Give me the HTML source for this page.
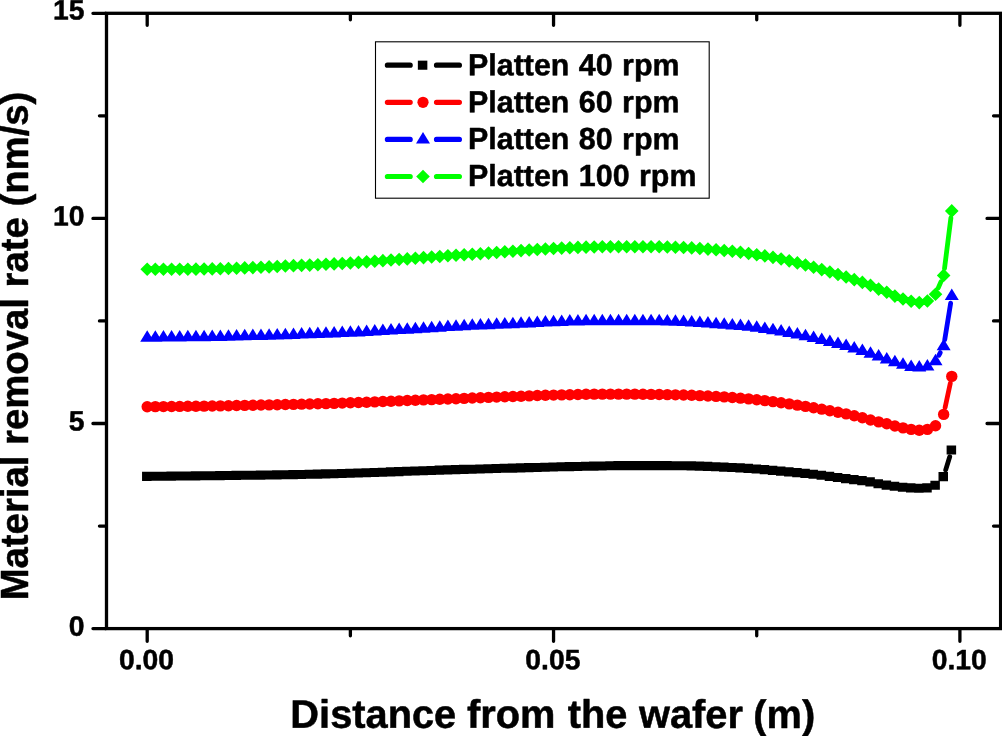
<!DOCTYPE html>
<html lang="en"><head><meta charset="utf-8"><title>Material removal rate vs distance from the wafer</title>
<style>
html,body{margin:0;padding:0;background:#fff;}
body{width:1002px;height:736px;overflow:hidden;}
svg{display:block;}
text{font-family:"Liberation Sans",sans-serif;font-weight:bold;fill:#000;stroke:#000;stroke-width:0.5px;stroke-linejoin:round;}
.tick{font-size:28.3px;}
.leg{font-size:30.4px;}
.title{font-size:39px;}
</style></head><body>
<svg width="1002" height="736" viewBox="0 0 1002 736">
<rect width="1002" height="736" fill="#fff"/>
<g fill="#000000" stroke="none">
<path d="M945.69 469.91L949.73 456.69" fill="none" stroke="#000000" stroke-width="4.8" stroke-linecap="round"/>
<path d="M142.05 471.85h9.5v9.1h-9.5zM150.18 471.77h9.5v9.1h-9.5zM158.3 471.69h9.5v9.1h-9.5zM166.43 471.61h9.5v9.1h-9.5zM174.56 471.52h9.5v9.1h-9.5zM182.68 471.43h9.5v9.1h-9.5zM190.81 471.34h9.5v9.1h-9.5zM198.94 471.25h9.5v9.1h-9.5zM207.07 471.15h9.5v9.1h-9.5zM215.19 471.05h9.5v9.1h-9.5zM223.32 470.96h9.5v9.1h-9.5zM231.45 470.86h9.5v9.1h-9.5zM239.57 470.76h9.5v9.1h-9.5zM247.7 470.66h9.5v9.1h-9.5zM255.83 470.55h9.5v9.1h-9.5zM263.96 470.44h9.5v9.1h-9.5zM272.08 470.32h9.5v9.1h-9.5zM280.21 470.19h9.5v9.1h-9.5zM288.34 470.05h9.5v9.1h-9.5zM296.46 469.9h9.5v9.1h-9.5zM304.59 469.73h9.5v9.1h-9.5zM312.72 469.54h9.5v9.1h-9.5zM320.84 469.34h9.5v9.1h-9.5zM328.97 469.13h9.5v9.1h-9.5zM337.1 468.91h9.5v9.1h-9.5zM345.23 468.68h9.5v9.1h-9.5zM353.35 468.45h9.5v9.1h-9.5zM361.48 468.2h9.5v9.1h-9.5zM369.61 467.92h9.5v9.1h-9.5zM377.73 467.64h9.5v9.1h-9.5zM385.86 467.35h9.5v9.1h-9.5zM393.99 467.06h9.5v9.1h-9.5zM402.11 466.77h9.5v9.1h-9.5zM410.24 466.47h9.5v9.1h-9.5zM418.37 466.18h9.5v9.1h-9.5zM426.5 465.89h9.5v9.1h-9.5zM434.62 465.61h9.5v9.1h-9.5zM442.75 465.35h9.5v9.1h-9.5zM450.88 465.1h9.5v9.1h-9.5zM459 464.86h9.5v9.1h-9.5zM467.13 464.63h9.5v9.1h-9.5zM475.26 464.41h9.5v9.1h-9.5zM483.38 464.19h9.5v9.1h-9.5zM491.51 463.98h9.5v9.1h-9.5zM499.64 463.76h9.5v9.1h-9.5zM507.76 463.55h9.5v9.1h-9.5zM515.89 463.34h9.5v9.1h-9.5zM524.02 463.12h9.5v9.1h-9.5zM532.15 462.9h9.5v9.1h-9.5zM540.27 462.68h9.5v9.1h-9.5zM548.4 462.47h9.5v9.1h-9.5zM556.53 462.26h9.5v9.1h-9.5zM564.65 462.07h9.5v9.1h-9.5zM572.78 461.88h9.5v9.1h-9.5zM580.91 461.71h9.5v9.1h-9.5zM589.03 461.55h9.5v9.1h-9.5zM597.16 461.39h9.5v9.1h-9.5zM605.29 461.23h9.5v9.1h-9.5zM613.42 461.1h9.5v9.1h-9.5zM621.54 461.05h9.5v9.1h-9.5zM629.67 461.05h9.5v9.1h-9.5zM637.8 461.05h9.5v9.1h-9.5zM645.92 461.05h9.5v9.1h-9.5zM654.05 461.05h9.5v9.1h-9.5zM662.18 461.07h9.5v9.1h-9.5zM670.3 461.14h9.5v9.1h-9.5zM678.43 461.24h9.5v9.1h-9.5zM686.56 461.35h9.5v9.1h-9.5zM694.69 461.54h9.5v9.1h-9.5zM702.81 461.83h9.5v9.1h-9.5zM710.94 462.18h9.5v9.1h-9.5zM719.07 462.55h9.5v9.1h-9.5zM727.19 462.93h9.5v9.1h-9.5zM735.32 463.36h9.5v9.1h-9.5zM743.45 463.85h9.5v9.1h-9.5zM751.58 464.43h9.5v9.1h-9.5zM759.7 465.1h9.5v9.1h-9.5zM767.83 465.81h9.5v9.1h-9.5zM775.96 466.55h9.5v9.1h-9.5zM784.08 467.29h9.5v9.1h-9.5zM792.21 468.06h9.5v9.1h-9.5zM800.34 468.87h9.5v9.1h-9.5zM808.46 469.75h9.5v9.1h-9.5zM816.59 470.73h9.5v9.1h-9.5zM824.72 471.81h9.5v9.1h-9.5zM832.85 472.94h9.5v9.1h-9.5zM840.97 474.05h9.5v9.1h-9.5zM849.1 475.07h9.5v9.1h-9.5zM857.23 476.1h9.5v9.1h-9.5zM865.35 477.35h9.5v9.1h-9.5zM873.48 479.15h9.5v9.1h-9.5zM881.61 480.59h9.5v9.1h-9.5zM889.73 481.75h9.5v9.1h-9.5zM897.86 482.69h9.5v9.1h-9.5zM905.99 483.35h9.5v9.1h-9.5zM914.12 483.65h9.5v9.1h-9.5zM922.24 483.35h9.5v9.1h-9.5zM930.37 480.65h9.5v9.1h-9.5zM938.5 472.05h9.5v9.1h-9.5zM946.62 445.45h9.5v9.1h-9.5z"/>
</g>
<g fill="#ff0000" stroke="none">
<path d="M945.11 407.55L950.31 383.25" fill="none" stroke="#ff0000" stroke-width="4.8" stroke-linecap="round"/>
<circle cx="147.2" cy="406.7" r="5.7"/>
<circle cx="155.33" cy="406.65" r="5.7"/>
<circle cx="163.45" cy="406.58" r="5.7"/>
<circle cx="171.58" cy="406.5" r="5.7"/>
<circle cx="179.71" cy="406.42" r="5.7"/>
<circle cx="187.83" cy="406.32" r="5.7"/>
<circle cx="195.96" cy="406.22" r="5.7"/>
<circle cx="204.09" cy="406.11" r="5.7"/>
<circle cx="212.22" cy="406" r="5.7"/>
<circle cx="220.34" cy="405.87" r="5.7"/>
<circle cx="228.47" cy="405.72" r="5.7"/>
<circle cx="236.6" cy="405.56" r="5.7"/>
<circle cx="244.72" cy="405.4" r="5.7"/>
<circle cx="252.85" cy="405.24" r="5.7"/>
<circle cx="260.98" cy="405.07" r="5.7"/>
<circle cx="269.11" cy="404.89" r="5.7"/>
<circle cx="277.23" cy="404.71" r="5.7"/>
<circle cx="285.36" cy="404.53" r="5.7"/>
<circle cx="293.49" cy="404.35" r="5.7"/>
<circle cx="301.61" cy="404.17" r="5.7"/>
<circle cx="309.74" cy="404" r="5.7"/>
<circle cx="317.87" cy="403.81" r="5.7"/>
<circle cx="325.99" cy="403.6" r="5.7"/>
<circle cx="334.12" cy="403.36" r="5.7"/>
<circle cx="342.25" cy="403.09" r="5.7"/>
<circle cx="350.38" cy="402.8" r="5.7"/>
<circle cx="358.5" cy="402.5" r="5.7"/>
<circle cx="366.63" cy="402.19" r="5.7"/>
<circle cx="374.76" cy="401.86" r="5.7"/>
<circle cx="382.88" cy="401.53" r="5.7"/>
<circle cx="391.01" cy="401.2" r="5.7"/>
<circle cx="399.14" cy="400.87" r="5.7"/>
<circle cx="407.26" cy="400.54" r="5.7"/>
<circle cx="415.39" cy="400.22" r="5.7"/>
<circle cx="423.52" cy="399.9" r="5.7"/>
<circle cx="431.65" cy="399.6" r="5.7"/>
<circle cx="439.77" cy="399.3" r="5.7"/>
<circle cx="447.9" cy="399" r="5.7"/>
<circle cx="456.03" cy="398.68" r="5.7"/>
<circle cx="464.15" cy="398.35" r="5.7"/>
<circle cx="472.28" cy="398.02" r="5.7"/>
<circle cx="480.41" cy="397.7" r="5.7"/>
<circle cx="488.53" cy="397.39" r="5.7"/>
<circle cx="496.66" cy="397.09" r="5.7"/>
<circle cx="504.79" cy="396.8" r="5.7"/>
<circle cx="512.91" cy="396.5" r="5.7"/>
<circle cx="521.04" cy="396.19" r="5.7"/>
<circle cx="529.17" cy="395.87" r="5.7"/>
<circle cx="537.3" cy="395.57" r="5.7"/>
<circle cx="545.42" cy="395.3" r="5.7"/>
<circle cx="553.55" cy="395.08" r="5.7"/>
<circle cx="561.68" cy="394.88" r="5.7"/>
<circle cx="569.8" cy="394.69" r="5.7"/>
<circle cx="577.93" cy="394.5" r="5.7"/>
<circle cx="586.06" cy="394.25" r="5.7"/>
<circle cx="594.18" cy="394.1" r="5.7"/>
<circle cx="602.31" cy="394.1" r="5.7"/>
<circle cx="610.44" cy="394.1" r="5.7"/>
<circle cx="618.57" cy="394.1" r="5.7"/>
<circle cx="626.69" cy="394.1" r="5.7"/>
<circle cx="634.82" cy="394.14" r="5.7"/>
<circle cx="642.95" cy="394.23" r="5.7"/>
<circle cx="651.07" cy="394.36" r="5.7"/>
<circle cx="659.2" cy="394.5" r="5.7"/>
<circle cx="667.33" cy="394.65" r="5.7"/>
<circle cx="675.45" cy="394.83" r="5.7"/>
<circle cx="683.58" cy="395.05" r="5.7"/>
<circle cx="691.71" cy="395.3" r="5.7"/>
<circle cx="699.84" cy="395.61" r="5.7"/>
<circle cx="707.96" cy="395.98" r="5.7"/>
<circle cx="716.09" cy="396.42" r="5.7"/>
<circle cx="724.22" cy="396.9" r="5.7"/>
<circle cx="732.34" cy="397.48" r="5.7"/>
<circle cx="740.47" cy="398.16" r="5.7"/>
<circle cx="748.6" cy="398.9" r="5.7"/>
<circle cx="756.73" cy="399.7" r="5.7"/>
<circle cx="764.85" cy="400.6" r="5.7"/>
<circle cx="772.98" cy="401.6" r="5.7"/>
<circle cx="781.11" cy="402.7" r="5.7"/>
<circle cx="789.23" cy="403.87" r="5.7"/>
<circle cx="797.36" cy="405.1" r="5.7"/>
<circle cx="805.49" cy="406.36" r="5.7"/>
<circle cx="813.61" cy="407.7" r="5.7"/>
<circle cx="821.74" cy="409.16" r="5.7"/>
<circle cx="829.87" cy="410.7" r="5.7"/>
<circle cx="838" cy="412.25" r="5.7"/>
<circle cx="846.12" cy="413.9" r="5.7"/>
<circle cx="854.25" cy="415.71" r="5.7"/>
<circle cx="862.38" cy="417.7" r="5.7"/>
<circle cx="870.5" cy="420" r="5.7"/>
<circle cx="878.63" cy="421.9" r="5.7"/>
<circle cx="886.76" cy="423.8" r="5.7"/>
<circle cx="894.88" cy="426" r="5.7"/>
<circle cx="903.01" cy="427.9" r="5.7"/>
<circle cx="911.14" cy="429.4" r="5.7"/>
<circle cx="919.27" cy="430.2" r="5.7"/>
<circle cx="927.39" cy="429.4" r="5.7"/>
<circle cx="935.52" cy="425.7" r="5.7"/>
<circle cx="943.65" cy="414.4" r="5.7"/>
<circle cx="951.77" cy="376.4" r="5.7"/>
</g>
<g fill="#0000ff" stroke="none">
<path d="M938.85 355.31L940.31 352.62M944.76 339.56L950.66 303.08" fill="none" stroke="#0000ff" stroke-width="4.8" stroke-linecap="round"/>
<path d="M147.2 330.3L154.2 341.8L140.2 341.8zM155.33 330.19L162.33 341.69L148.33 341.69zM163.45 330.09L170.45 341.59L156.45 341.59zM171.58 329.99L178.58 341.49L164.58 341.49zM179.71 329.9L186.71 341.4L172.71 341.4zM187.83 329.83L194.83 341.33L180.83 341.33zM195.96 329.76L202.96 341.26L188.96 341.26zM204.09 329.69L211.09 341.19L197.09 341.19zM212.22 329.6L219.22 341.1L205.22 341.1zM220.34 329.45L227.34 340.95L213.34 340.95zM228.47 329.25L235.47 340.75L221.47 340.75zM236.6 329.02L243.6 340.52L229.6 340.52zM244.72 328.8L251.72 340.3L237.72 340.3zM252.85 328.61L259.85 340.11L245.85 340.11zM260.98 328.42L267.98 339.92L253.98 339.92zM269.11 328.23L276.11 339.73L262.11 339.73zM277.23 328L284.23 339.5L270.23 339.5zM285.36 327.71L292.36 339.21L278.36 339.21zM293.49 327.4L300.49 338.9L286.49 338.9zM301.61 327.1L308.61 338.6L294.61 338.6zM309.74 326.81L316.74 338.31L302.74 338.31zM317.87 326.51L324.87 338.01L310.87 338.01zM325.99 326.2L332.99 337.7L318.99 337.7zM334.12 325.89L341.12 337.39L327.12 337.39zM342.25 325.59L349.25 337.09L335.25 337.09zM350.38 325.26L357.38 336.76L343.38 336.76zM358.5 324.9L365.5 336.4L351.5 336.4zM366.63 324.47L373.63 335.97L359.63 335.97zM374.76 323.98L381.76 335.48L367.76 335.48zM382.88 323.48L389.88 334.98L375.88 334.98zM391.01 323L398.01 334.5L384.01 334.5zM399.14 322.57L406.14 334.07L392.14 334.07zM407.26 322.17L414.26 333.67L400.26 333.67zM415.39 321.76L422.39 333.26L408.39 333.26zM423.52 321.3L430.52 332.8L416.52 332.8zM431.65 320.75L438.65 332.25L424.65 332.25zM439.77 320.14L446.77 331.64L432.77 331.64zM447.9 319.6L454.9 331.1L440.9 331.1zM456.03 319.15L463.03 330.65L449.03 330.65zM464.15 318.74L471.15 330.24L457.15 330.24zM472.28 318.36L479.28 329.86L465.28 329.86zM480.41 318L487.41 329.5L473.41 329.5zM488.53 317.66L495.53 329.16L481.53 329.16zM496.66 317.35L503.66 328.85L489.66 328.85zM504.79 317.04L511.79 328.54L497.79 328.54zM512.91 316.7L519.91 328.2L505.91 328.2zM521.04 316.31L528.04 327.81L514.04 327.81zM529.17 315.89L536.17 327.39L522.17 327.39zM537.3 315.48L544.3 326.98L530.3 326.98zM545.42 315.1L552.42 326.6L538.42 326.6zM553.55 314.75L560.55 326.25L546.55 326.25zM561.68 314.4L568.68 325.9L554.68 325.9zM569.8 314.1L576.8 325.6L562.8 325.6zM577.93 313.9L584.93 325.4L570.93 325.4zM586.06 313.76L593.06 325.26L579.06 325.26zM594.18 313.7L601.18 325.2L587.18 325.2zM602.31 313.72L609.31 325.22L595.31 325.22zM610.44 313.75L617.44 325.25L603.44 325.25zM618.57 313.78L625.57 325.28L611.57 325.28zM626.69 313.8L633.69 325.3L619.69 325.3zM634.82 313.8L641.82 325.3L627.82 325.3zM642.95 313.8L649.95 325.3L635.95 325.3zM651.07 313.8L658.07 325.3L644.07 325.3zM659.2 313.8L666.2 325.3L652.2 325.3zM667.33 313.91L674.33 325.41L660.33 325.41zM675.45 314.2L682.45 325.7L668.45 325.7zM683.58 314.59L690.58 326.09L676.58 326.09zM691.71 315L698.71 326.5L684.71 326.5zM699.84 315.46L706.84 326.96L692.84 326.96zM707.96 316.04L714.96 327.54L700.96 327.54zM716.09 316.67L723.09 328.17L709.09 328.17zM724.22 317.3L731.22 328.8L717.22 328.8zM732.34 317.91L739.34 329.41L725.34 329.41zM740.47 318.55L747.47 330.05L733.47 330.05zM748.6 319.3L755.6 330.8L741.6 330.8zM756.73 320.26L763.73 331.76L749.73 331.76zM764.85 321.4L771.85 332.9L757.85 332.9zM772.98 322.7L779.98 334.2L765.98 334.2zM781.11 324.1L788.11 335.6L774.11 335.6zM789.23 325.5L796.23 337L782.23 337zM797.36 327L804.36 338.5L790.36 338.5zM805.49 328.73L812.49 340.23L798.49 340.23zM813.61 330.6L820.61 342.1L806.61 342.1zM821.74 332.52L828.74 344.02L814.74 344.02zM829.87 334.5L836.87 346L822.87 346zM838 336.5L845 348L831 348zM846.12 338.6L853.12 350.1L839.12 350.1zM854.25 340.9L861.25 352.4L847.25 352.4zM862.38 343.4L869.38 354.9L855.38 354.9zM870.5 346.17L877.5 357.67L863.5 357.67zM878.63 349.1L885.63 360.6L871.63 360.6zM886.76 352.1L893.76 363.6L879.76 363.6zM894.88 354.8L901.88 366.3L887.88 366.3zM903.01 357.3L910.01 368.8L896.01 368.8zM911.14 359.4L918.14 370.9L904.14 370.9zM919.27 360.1L926.27 371.6L912.27 371.6zM927.39 359.1L934.39 370.6L920.39 370.6zM935.52 353.8L942.52 365.3L928.52 365.3zM943.65 338.8L950.65 350.3L936.65 350.3zM951.77 288.5L958.77 300L944.77 300z"/>
</g>
<g fill="#00ff00" stroke="none">
<path d="M938.28 287.87L940.88 281.83M944.52 268.45L950.9 217.85" fill="none" stroke="#00ff00" stroke-width="4.8" stroke-linecap="round"/>
<path d="M147.2 262.5L154 269.3L147.2 276.1L140.4 269.3zM155.33 262.5L162.13 269.3L155.33 276.1L148.53 269.3zM163.45 262.5L170.25 269.3L163.45 276.1L156.65 269.3zM171.58 262.5L178.38 269.3L171.58 276.1L164.78 269.3zM179.71 262.5L186.51 269.3L179.71 276.1L172.91 269.3zM187.83 262.46L194.63 269.26L187.83 276.06L181.03 269.26zM195.96 262.37L202.76 269.17L195.96 275.97L189.16 269.17zM204.09 262.24L210.89 269.04L204.09 275.84L197.29 269.04zM212.22 262.1L219.02 268.9L212.22 275.7L205.42 268.9zM220.34 261.92L227.14 268.72L220.34 275.52L213.54 268.72zM228.47 261.67L235.27 268.47L228.47 275.27L221.67 268.47zM236.6 261.39L243.4 268.19L236.6 274.99L229.8 268.19zM244.72 261.1L251.52 267.9L244.72 274.7L237.92 267.9zM252.85 260.79L259.65 267.59L252.85 274.39L246.05 267.59zM260.98 260.45L267.78 267.25L260.98 274.05L254.18 267.25zM269.11 260.08L275.91 266.88L269.11 273.68L262.31 266.88zM277.23 259.7L284.03 266.5L277.23 273.3L270.43 266.5zM285.36 259.26L292.16 266.06L285.36 272.86L278.56 266.06zM293.49 258.85L300.29 265.65L293.49 272.45L286.69 265.65zM301.61 258.57L308.41 265.37L301.61 272.17L294.81 265.37zM309.74 258.3L316.54 265.1L309.74 271.9L302.94 265.1zM317.87 257.92L324.67 264.72L317.87 271.52L311.07 264.72zM325.99 257.5L332.79 264.3L325.99 271.1L319.19 264.3zM334.12 257.12L340.92 263.92L334.12 270.72L327.32 263.92zM342.25 256.7L349.05 263.5L342.25 270.3L335.45 263.5zM350.38 256.17L357.18 262.97L350.38 269.77L343.57 262.97zM358.5 255.6L365.3 262.4L358.5 269.2L351.7 262.4zM366.63 255.06L373.43 261.86L366.63 268.66L359.83 261.86zM374.76 254.5L381.56 261.3L374.76 268.1L367.96 261.3zM382.88 253.85L389.68 260.65L382.88 267.45L376.08 260.65zM391.01 253.2L397.81 260L391.01 266.8L384.21 260zM399.14 252.65L405.94 259.45L399.14 266.25L392.34 259.45zM407.26 252.1L414.06 258.9L407.26 265.7L400.46 258.9zM415.39 251.45L422.19 258.25L415.39 265.05L408.59 258.25zM423.52 250.8L430.32 257.6L423.52 264.4L416.72 257.6zM431.65 250.26L438.45 257.06L431.65 263.86L424.85 257.06zM439.77 249.7L446.57 256.5L439.77 263.3L432.97 256.5zM447.9 249L454.7 255.8L447.9 262.6L441.1 255.8zM456.03 248.43L462.83 255.23L456.03 262.03L449.23 255.23zM464.15 247.93L470.95 254.73L464.15 261.53L457.35 254.73zM472.28 247.43L479.08 254.23L472.28 261.03L465.48 254.23zM480.41 246.9L487.21 253.7L480.41 260.5L473.61 253.7zM488.53 246.3L495.33 253.1L488.53 259.9L481.73 253.1zM496.66 245.66L503.46 252.46L496.66 259.26L489.86 252.46zM504.79 245.01L511.59 251.81L504.79 258.61L497.99 251.81zM512.91 244.4L519.71 251.2L512.91 258L506.11 251.2zM521.04 243.81L527.84 250.61L521.04 257.41L514.24 250.61zM529.17 243.24L535.97 250.04L529.17 256.84L522.37 250.04zM537.3 242.69L544.1 249.49L537.3 256.29L530.5 249.49zM545.42 242.2L552.22 249L545.42 255.8L538.62 249zM553.55 241.74L560.35 248.54L553.55 255.34L546.75 248.54zM561.68 241.31L568.48 248.11L561.68 254.91L554.88 248.11zM569.8 240.92L576.6 247.72L569.8 254.52L563 247.72zM577.93 240.6L584.73 247.4L577.93 254.2L571.13 247.4zM586.06 240.35L592.86 247.15L586.06 253.95L579.26 247.15zM594.18 240.15L600.98 246.95L594.18 253.75L587.38 246.95zM602.31 239.98L609.11 246.78L602.31 253.58L595.51 246.78zM610.44 239.9L617.24 246.7L610.44 253.5L603.64 246.7zM618.57 239.9L625.37 246.7L618.57 253.5L611.77 246.7zM626.69 239.9L633.49 246.7L626.69 253.5L619.89 246.7zM634.82 239.9L641.62 246.7L634.82 253.5L628.02 246.7zM642.95 239.9L649.75 246.7L642.95 253.5L636.15 246.7zM651.07 239.93L657.87 246.73L651.07 253.53L644.27 246.73zM659.2 240L666 246.8L659.2 253.6L652.4 246.8zM667.33 240.16L674.13 246.96L667.33 253.76L660.53 246.96zM675.45 240.4L682.25 247.2L675.45 254L668.65 247.2zM683.58 240.7L690.38 247.5L683.58 254.3L676.78 247.5zM691.71 241.1L698.51 247.9L691.71 254.7L684.91 247.9zM699.84 241.65L706.64 248.45L699.84 255.25L693.04 248.45zM707.96 242.3L714.76 249.1L707.96 255.9L701.16 249.1zM716.09 242.97L722.89 249.77L716.09 256.57L709.29 249.77zM724.22 243.7L731.02 250.5L724.22 257.3L717.42 250.5zM732.34 244.48L739.14 251.28L732.34 258.08L725.54 251.28zM740.47 245.4L747.27 252.2L740.47 259L733.67 252.2zM748.6 246.7L755.4 253.5L748.6 260.3L741.8 253.5zM756.73 247.88L763.53 254.68L756.73 261.48L749.93 254.68zM764.85 249.1L771.65 255.9L764.85 262.7L758.05 255.9zM772.98 250.55L779.78 257.35L772.98 264.15L766.18 257.35zM781.11 252.2L787.91 259L781.11 265.8L774.31 259zM789.23 254.06L796.03 260.86L789.23 267.66L782.43 260.86zM797.36 256.1L804.16 262.9L797.36 269.7L790.56 262.9zM805.49 258.27L812.29 265.07L805.49 271.87L798.69 265.07zM813.61 260.5L820.41 267.3L813.61 274.1L806.81 267.3zM821.74 262.79L828.54 269.59L821.74 276.39L814.94 269.59zM829.87 265.18L836.67 271.98L829.87 278.78L823.07 271.98zM838 267.66L844.8 274.46L838 281.26L831.2 274.46zM846.12 270.2L852.92 277L846.12 283.8L839.32 277zM854.25 272.83L861.05 279.63L854.25 286.43L847.45 279.63zM862.38 275.6L869.18 282.4L862.38 289.2L855.58 282.4zM870.5 278.6L877.3 285.4L870.5 292.2L863.7 285.4zM878.63 282.3L885.43 289.1L878.63 295.9L871.83 289.1zM886.76 285.4L893.56 292.2L886.76 299L879.96 292.2zM894.88 289.3L901.68 296.1L894.88 302.9L888.08 296.1zM903.01 292.2L909.81 299L903.01 305.8L896.21 299zM911.14 294.5L917.94 301.3L911.14 308.1L904.34 301.3zM919.27 295.8L926.07 302.6L919.27 309.4L912.47 302.6zM927.39 294.2L934.19 301L927.39 307.8L920.59 301zM935.52 287.5L942.32 294.3L935.52 301.1L928.72 294.3zM943.65 268.6L950.45 275.4L943.65 282.2L936.85 275.4zM951.77 204.1L958.57 210.9L951.77 217.7L944.97 210.9z"/>
</g>
<g fill="none" stroke="#000" stroke-width="3.3" stroke-linecap="round">
<rect x="106.5" y="13.3" width="894.1" height="615.3" stroke-linejoin="miter"/>
<path d="M92.95 628.6H106M99.45 526.05H106M993.55 526.05H1000.1M92.95 423.5H106M987.05 423.5H1000.1M99.45 320.95H106M993.55 320.95H1000.1M92.95 218.4H106M987.05 218.4H1000.1M99.45 115.85H106M993.55 115.85H1000.1M92.95 13.3H106M147.2 629.1V641.25M147.2 13.8V25.35M350.38 629.1V635.75M350.38 13.8V19.85M553.55 629.1V641.25M553.55 13.8V25.35M756.73 629.1V635.75M756.73 13.8V19.85M959.9 629.1V641.25M959.9 13.8V25.35"/>
</g>
<text class="tick" transform="translate(84.4 635.7) rotate(0.03) scale(1 0.99)" text-anchor="end">0</text>
<text class="tick" transform="translate(84.4 430.6) rotate(0.03) scale(1 0.99)" text-anchor="end">5</text>
<text class="tick" transform="translate(84.4 225.5) rotate(0.03) scale(1 0.99)" text-anchor="end">10</text>
<text class="tick" transform="translate(84.4 19.6) rotate(0.03) scale(1 0.99)" text-anchor="end">15</text>
<text class="tick" transform="translate(146.5 669.3) rotate(0.03) scale(1 0.99)" text-anchor="middle">0.00</text>
<text class="tick" transform="translate(552.85 669.3) rotate(0.03) scale(1 0.99)" text-anchor="middle">0.05</text>
<text class="tick" transform="translate(959.2 669.3) rotate(0.03) scale(1 0.99)" text-anchor="middle">0.10</text>
<text class="title" transform="translate(553.4 727.8) rotate(0.03) scale(1 1.0)" style="font-size:39.8px"><tspan x="-263.06">Distance</tspan> <tspan x="-86.38">from</tspan> <tspan x="14.41">the</tspan> <tspan x="85.62">wafer</tspan> <tspan x="199.92">(m)</tspan></text>
<text class="title" transform="translate(28.2 346) rotate(-90)" text-anchor="middle" style="font-size:38.3px">Material removal rate (nm/s)</text>
<rect x="375.5" y="41.8" width="333.7" height="156.4" fill="#fff" stroke="#000" stroke-width="1.1"/>
<g fill="#000000">
<path d="M387.4 65.2H410.2M436.5 65.2H459.4" fill="none" stroke="#000000" stroke-width="5.2" stroke-linecap="round"/>
<path d="M417.85 60.65h9.5v9.1h-9.5z"/>
</g>
<text class="leg" transform="translate(468.1 75.2) rotate(0.03) scale(1 1.0)" style="word-spacing:1px">Platten 40 rpm</text>
<g fill="#ff0000">
<path d="M387.4 102.3H410.2M436.5 102.3H459.4" fill="none" stroke="#ff0000" stroke-width="5.2" stroke-linecap="round"/>
<circle cx="423" cy="102.3" r="5.6"/>
</g>
<text class="leg" transform="translate(468.1 112.13) rotate(0.03) scale(1 1.0)" style="word-spacing:1px">Platten 60 rpm</text>
<g fill="#0000ff">
<path d="M387.4 139.4H410.2M436.5 139.4H459.4" fill="none" stroke="#0000ff" stroke-width="5.2" stroke-linecap="round"/>
<path d="M423 132.03L430 143.53L416 143.53z"/>
</g>
<text class="leg" transform="translate(468.1 149.06) rotate(0.03) scale(1 1.0)" style="word-spacing:1px">Platten 80 rpm</text>
<g fill="#00ff00">
<path d="M387.4 176.5H410.2M436.5 176.5H459.4" fill="none" stroke="#00ff00" stroke-width="5.2" stroke-linecap="round"/>
<path d="M423 169.7L429.8 176.5L423 183.3L416.2 176.5z"/>
</g>
<text class="leg" transform="translate(468.1 185.99) rotate(0.03) scale(1 1.0)" style="word-spacing:1px">Platten 100 rpm</text>
</svg></body></html>
